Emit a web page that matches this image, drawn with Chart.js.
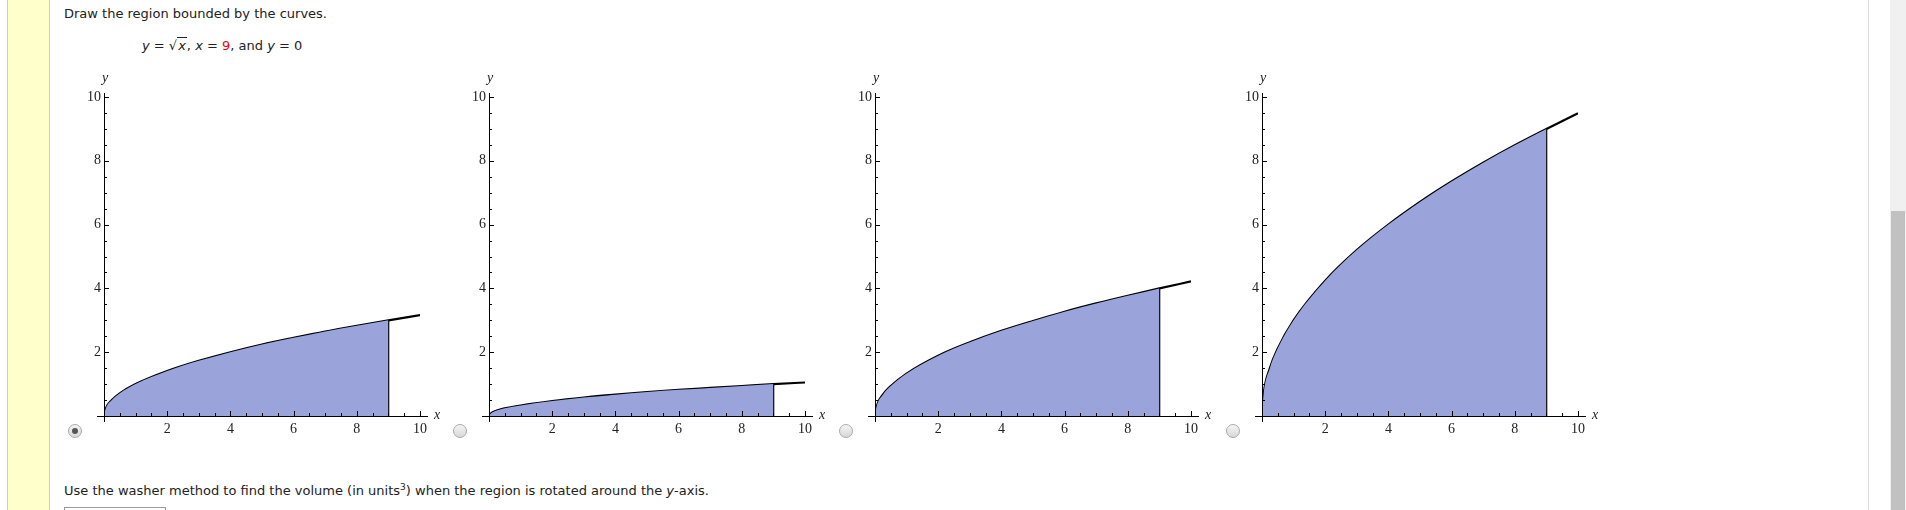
<!DOCTYPE html>
<html>
<head>
<meta charset="utf-8">
<script src="https://cdn.jsdelivr.net/npm/chart.js@4.4.0/dist/chart.umd.min.js"></script>
<style>
  body { margin: 0; width: 1906px; height: 510px; background: #fff; position: relative; overflow: hidden;
         font-family: "DejaVu Sans", Verdana, sans-serif; color: #222; }
  .strip { position: absolute; left: 7px; top: 0; width: 41px; height: 510px; background: #ffffcc;
           border-left: 1px solid #ccc; border-right: 1px solid #ccc; }
  .title { position: absolute; left: 64px; top: 6px; font-size: 13px; }
  .eq { position: absolute; left: 142px; top: 38px; font-size: 13px; }
  .eq i { font-style: italic; }
  .red { color: #e00; }
  .sq { border-top: 1px solid #222; padding: 0 1px; }
  .bottom { position: absolute; left: 64px; top: 482px; font-size: 13px; }
  .box { position: absolute; left: 64px; top: 507px; width: 100px; height: 10px; border: 1px solid #999; }
  canvas { position: absolute; }
  .radio { position: absolute; width: 12px; height: 12px; border-radius: 50%; border: 1px solid #aaa;
           background: linear-gradient(#f4f4f4, #d8d8d8); }
  .radio.on::after { content: ""; position: absolute; left: 3px; top: 3px; width: 6px; height: 6px;
           border-radius: 50%; background: #555; }
  .vline { position: absolute; left: 1868px; top: 0; width: 1px; height: 510px; background: #ddd; }
  .sb { position: absolute; left: 1890px; top: 0; width: 16px; height: 510px; background: #f0f0f0; }
  .thumb { position: absolute; left: 1891px; top: 211px; width: 14px; height: 299px; background: #c1c1c1; }
</style>
</head>
<body>
<div class="strip"></div>
<div class="title">Draw the region bounded by the curves.</div>
<div class="eq"><i>y</i> = √<span class="sq"><i>x</i></span>, <i>x</i> = <span class="red">9</span>, and <i>y</i> = 0</div>
<div class="bottom">Use the washer method to find the volume (in units<sup style="font-size:9px">3</sup>) when the region is rotated around the <i>y</i>-axis.</div>
<div class="box"></div>
<div class="vline"></div>
<div class="sb"></div>
<div class="thumb"></div>

<script>
// x positions sampled along each curve
const xs = [0, 0.05, 0.25, 0.5, 1, 2, 3, 4, 5, 6, 7, 8, 9, 10];
// curve heights
const curveA = [0, 0.22, 0.5, 0.71, 1, 1.41, 1.73, 2, 2.24, 2.45, 2.65, 2.83, 3, 3.16];
const curveB = [0, 0.07, 0.17, 0.24, 0.33, 0.47, 0.58, 0.67, 0.75, 0.82, 0.88, 0.94, 1, 1.05];
const curveC = [0, 0.3, 0.67, 0.94, 1.33, 1.89, 2.31, 2.67, 2.98, 3.27, 3.53, 3.77, 4, 4.22];
const curveD = [0, 0.67, 1.5, 2.12, 3, 4.24, 5.2, 6, 6.71, 7.35, 7.94, 8.49, 9, 9.49];
const boundX = 9;
const tickLabels = [2, 4, 6, 8, 10];
const panels = [curveA, curveB, curveC, curveD];
const axisLefts = [104, 489, 875, 1262];

const serif = '"Liberation Serif", "DejaVu Serif", serif';

const axesPlugin = {
  id: 'mathAxes',
  afterDraw(chart) {
    const c = chart.ctx, x = chart.scales.x, y = chart.scales.y;
    const x0 = x.getPixelForValue(0), y0 = y.getPixelForValue(0);
    c.save();
    c.strokeStyle = '#000';
    c.lineWidth = 1;
    c.beginPath();
    c.moveTo(x0 - 7, y0 + 0.5); c.lineTo(x.getPixelForValue(10) + 8, y0 + 0.5);
    c.moveTo(x0 + 0.5, y0 + 6); c.lineTo(x0 + 0.5, y.getPixelForValue(10) - 4);
    for (let v = 0.5; v <= 10; v += 0.5) {
      const len = v % 2 === 0 ? 5 : 3;
      const px = Math.round(x.getPixelForValue(v)) + 0.5;
      c.moveTo(px, y0); c.lineTo(px, y0 - len);
      const py = Math.round(y.getPixelForValue(v)) + 0.5;
      c.moveTo(x0, py); c.lineTo(x0 + len, py);
    }
    c.stroke();
    c.fillStyle = '#222';
    c.font = 'italic 14px ' + serif;
    c.textAlign = 'left'; c.textBaseline = 'middle';
    c.fillText('x', x.getPixelForValue(10) + 14, y0 - 1);
    c.textAlign = 'center'; c.textBaseline = 'bottom';
    c.fillText('y', x0 + 1, y.getPixelForValue(10) - 12);
    c.restore();
  }
};

panels.forEach((vals, i) => {
  const left = axisLefts[i];
  const canvas = document.createElement('canvas');
  canvas.style.left = (left - 45) + 'px';
  canvas.style.top = '60px';
  canvas.style.width = '390px';
  canvas.style.height = '390px';
  canvas.width = 390; canvas.height = 390;
  document.body.appendChild(canvas);

  const radio = document.createElement('div');
  radio.className = 'radio' + (i === 0 ? ' on' : '');
  radio.style.left = (left - 36) + 'px';
  radio.style.top = '424px';
  document.body.appendChild(radio);

  const pts = xs.map((x, k) => ({ x: x, y: vals[k] }));
  const k9 = xs.indexOf(boundX);
  const region = pts.slice(0, k9 + 1);

  new Chart(canvas, {
    type: 'line',
    data: {
      datasets: [
        { data: region, fill: 'origin', backgroundColor: '#9aa3da', borderWidth: 0, pointRadius: 0, cubicInterpolationMode: 'monotone' },
        { data: pts, fill: false, borderColor: '#000', borderWidth: 2.2, pointRadius: 0, cubicInterpolationMode: 'monotone' },
        { data: [{ x: boundX, y: 0 }, { x: boundX, y: vals[k9] }], fill: false, borderColor: '#000', borderWidth: 1.8, pointRadius: 0 },
        { data: [{ x: 0, y: 0 }, { x: boundX, y: 0 }], fill: false, borderColor: '#000', borderWidth: 2.2, pointRadius: 0 }
      ]
    },
    options: {
      responsive: false,
      animation: false,
      events: [],
      layout: { padding: { top: 37, right: 29, left: 0, bottom: 0 } },
      plugins: { legend: { display: false }, tooltip: { enabled: false } },
      scales: {
        x: {
          type: 'linear', min: 0, max: 10,
          afterFit: s => { s.height = 34; },
          border: { display: false }, grid: { display: false, drawTicks: false },
          ticks: { stepSize: 2, padding: 5, color: '#222', font: { family: serif, size: 14 },
                   callback: v => tickLabels.includes(v) ? String(v) : '' }
        },
        y: {
          type: 'linear', min: 0, max: 10,
          afterFit: s => { s.width = 45; },
          border: { display: false }, grid: { display: false, drawTicks: false },
          ticks: { stepSize: 2, padding: 3, color: '#222', font: { family: serif, size: 14 },
                   callback: v => tickLabels.includes(v) ? String(v) : '' }
        }
      }
    },
    plugins: [axesPlugin]
  });
});
</script>
</body>
</html>
